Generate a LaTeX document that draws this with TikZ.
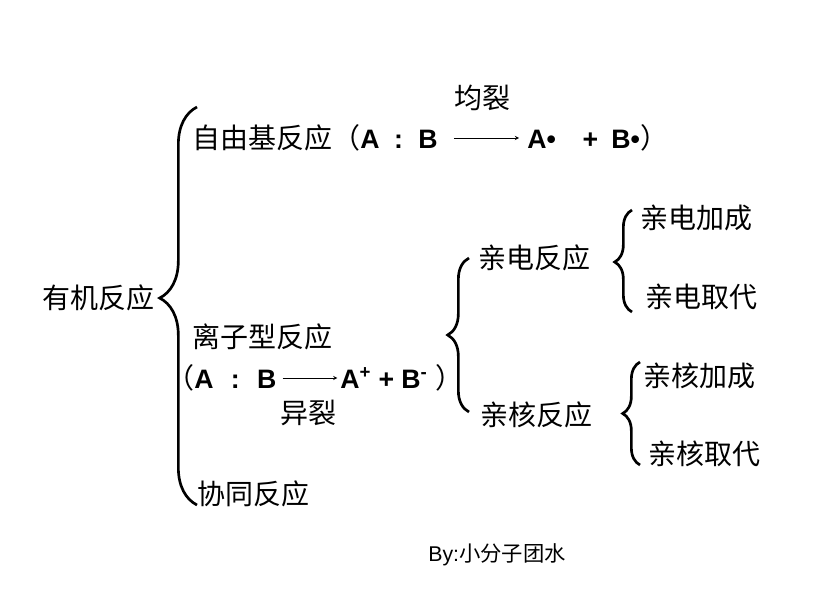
\documentclass[tikz,border=0pt]{standalone}
\usepackage{fontspec}
\setmainfont{Liberation Sans}
\newfontfamily\cjk{Noto Sans CJK SC}
\usetikzlibrary{decorations.pathreplacing,positioning}

\newcommand\lat[1]{{\rmfamily\bfseries\fontsize{20}{24}\selectfont #1}}

\tikzset{
  zh/.style={font=\cjk\fontsize{21}{25}\selectfont, inner sep=0pt, anchor=west},
  curly/.style={decorate, decoration={brace, amplitude=#1}, line width=2pt},
  split/.style={->, >=stealth, thin}
}

\begin{document}
\begin{tikzpicture}[x=0.75pt, y=-0.75pt]
    \useasboundingbox (0,0) rectangle (827,596);

    % Wurzel
    \node[zh] (root) at (42,298) {有机反应};

    % erste Ebene
    \node[zh] (free) at (192,138) {自由基反应（\lat{A\hspace{11pt}:\hspace{11.5pt}B}};
    \node[zh] (freeprod) at (527,138) {\lat{A•\hspace{20pt}+\hspace{10pt}B•}）};
    \draw[split, shorten <=12pt, shorten >=6pt] (free.east) -- (freeprod.west)
        node[zh, anchor=center, midway, yshift=30pt] (homo) {均裂};

    \node[zh] (ion) at (192,337) {离子型反应};
    \node[zh] (ionL) at (166,378) {（\lat{A\hspace{13pt}:\hspace{13pt}B}};
    \node[zh] (ionR) at (340,378) {\lat{A\textsuperscript{+} + B\textsuperscript{-}\hspace{6pt}}）};
    \draw[split, shorten <=4.5pt, shorten >=2pt] (ionL.east) -- (ionR.west)
        node[zh, anchor=center, midway, yshift=-26pt] (hetero) {异裂};

    \node[zh] (conc) at (197,494) {协同反应};

    % zweite Ebene
    \node[zh] (elec) at (478,258) {亲电反应};
    \node[zh] (nucl) at (480,415) {亲核反应};

    \node[zh] (elecadd) at (640,218) {亲电加成};
    \node[zh] (elecsub) at (645,297) {亲电取代};
    \node[zh] (nucladd) at (643,376) {亲核加成};
    \node[zh] (nuclsub) at (648,454) {亲核取代};

    % Klammern
    \coordinate (b1bot) at (197,505);
    \coordinate (b1top) at (197,107);
    \draw[curly=28pt, decoration={aspect=0.52}] (b1bot) -- (b1top);
    \coordinate (b2bot) at (469,412);
    \coordinate (b2top) at (469,258);
    \draw[curly=16pt, decoration={aspect=0.5}] (b2bot) -- (b2top);
    \coordinate (b3bot) at (632,312);
    \coordinate (b3top) at (632,210);
    \draw[curly=13pt, decoration={aspect=0.49}] (b3bot) -- (b3top);
    \coordinate (b4bot) at (640,465);
    \coordinate (b4top) at (640,362);
    \draw[curly=13pt, decoration={aspect=0.5}] (b4bot) -- (b4top);

    % Signatur
    \node[inner sep=0pt, anchor=west, font=\fontsize{16}{19}\selectfont] (sign) at (428,555) {By:{\cjk 小分子团水}};
\end{tikzpicture}
\end{document}
